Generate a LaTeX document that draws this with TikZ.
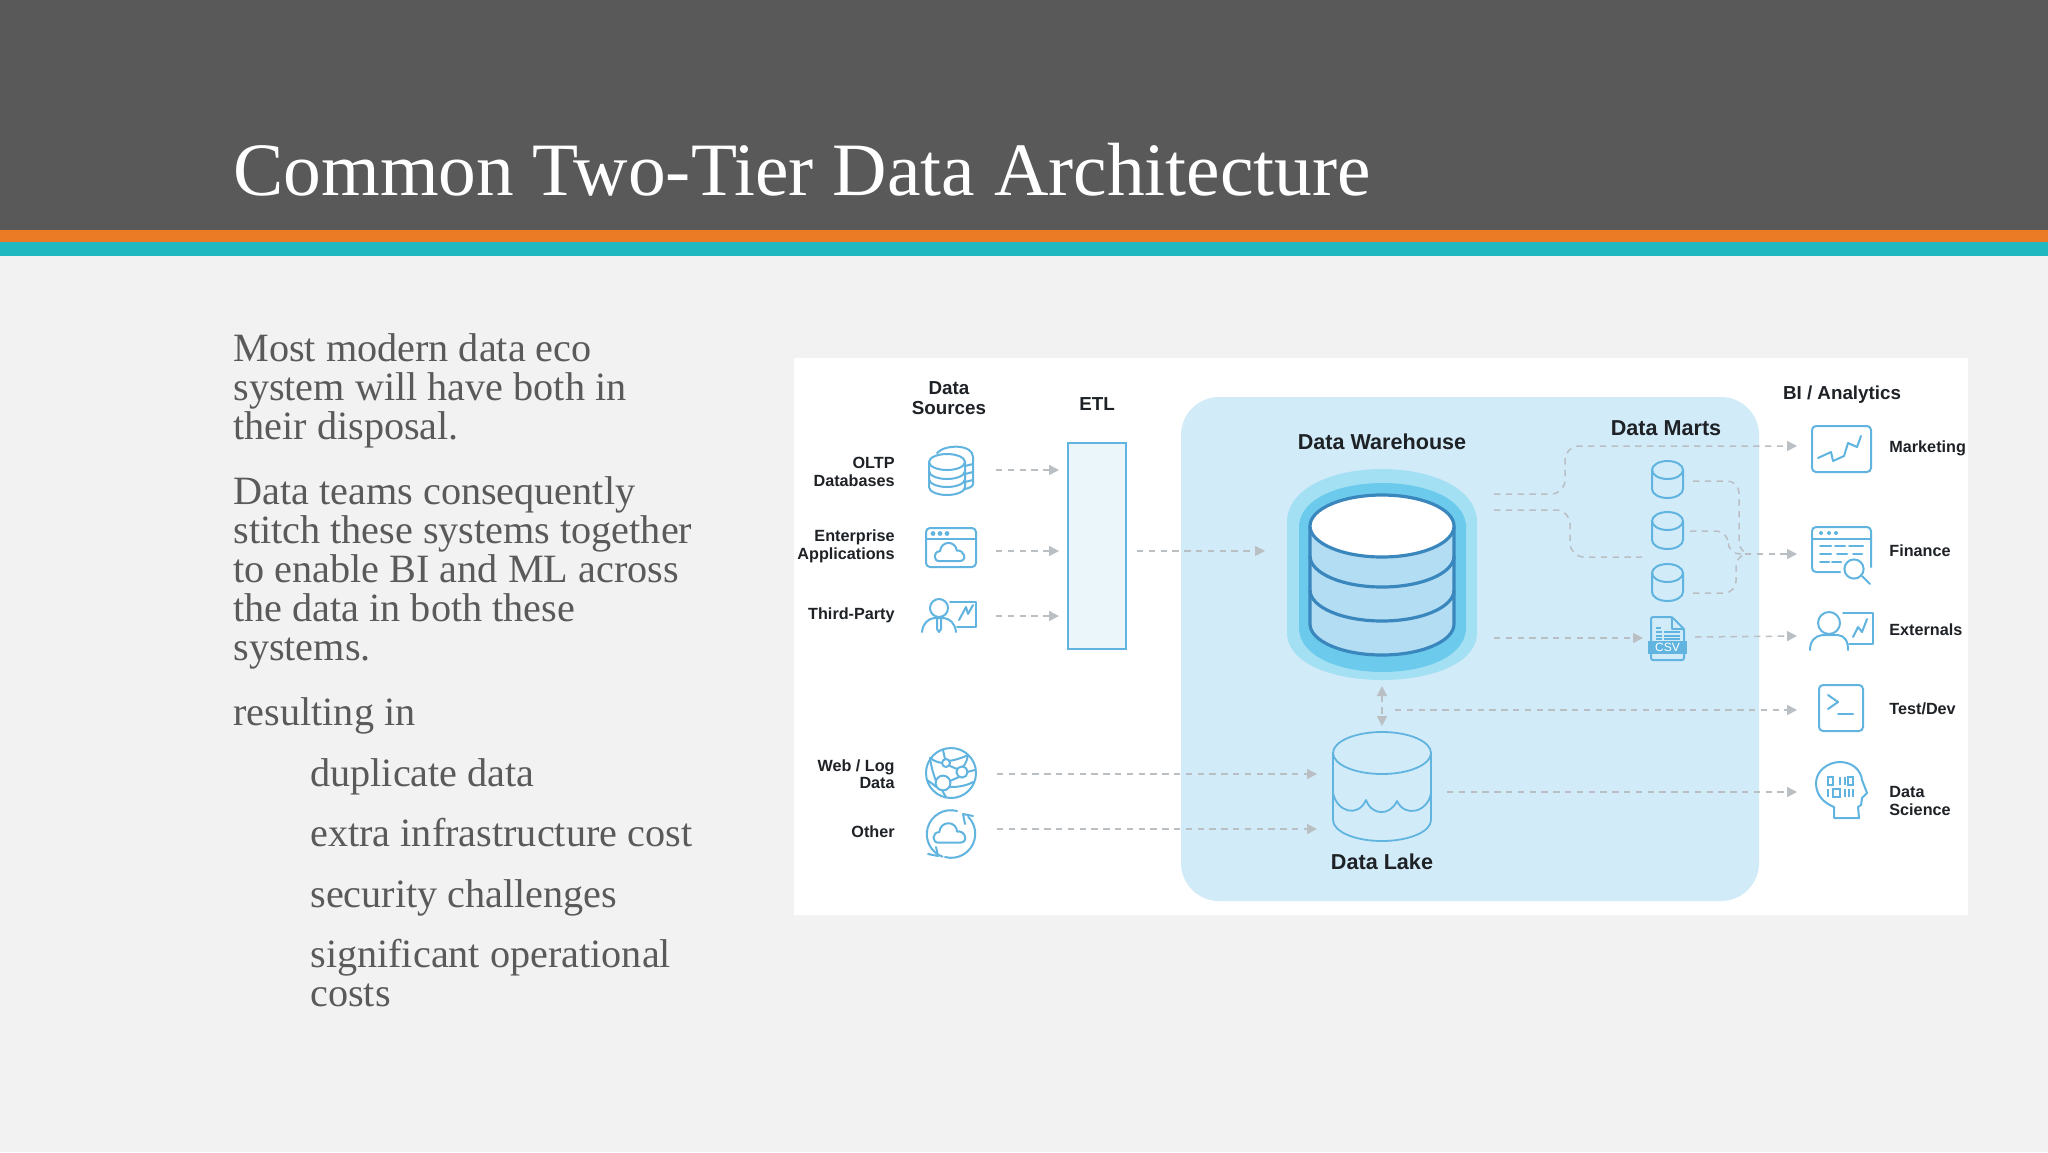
\documentclass[tikz,border=0pt]{standalone}
\usepackage{fontspec}
\setmainfont{Liberation Serif}
\newfontfamily\lab{Liberation Sans}
\usetikzlibrary{arrows.meta,calc}
\definecolor{hdr}{HTML}{595959}
\definecolor{org}{HTML}{EC7B26}
\definecolor{teal}{HTML}{20B8C0}
\definecolor{pagebg}{HTML}{F2F2F2}
\definecolor{bodytxt}{HTML}{5A5A5A}
\definecolor{panelblue}{HTML}{D2EBF8}
\definecolor{ic}{HTML}{60B4DF}
\definecolor{dash}{HTML}{BABFC3}
\definecolor{ink}{HTML}{1E2226}
\definecolor{halo1}{HTML}{A4E0F3}
\definecolor{halo2}{HTML}{6CCBEC}
\definecolor{dbfill}{HTML}{B3DDF3}
\definecolor{dbline}{HTML}{3A87BE}
\definecolor{etlfill}{HTML}{EAF6FA}
\tikzset{
 x=0.5pt,y=-0.5pt,
 bodyline/.style={anchor=base west,inner sep=0,text=bodytxt,font=\fontsize{20.1}{21}\selectfont},
 lbl/.style={inner sep=0,text=ink,font=\lab\bfseries\fontsize{8.1}{8.8}\selectfont,align=right,anchor=east},
 head/.style={inner sep=0,text=ink,font=\lab\bfseries\fontsize{9.4}{10}\selectfont,align=center},
 headb/.style={inner sep=0,text=ink,font=\lab\bfseries\fontsize{10.8}{11}\selectfont,align=center},
 lblr/.style={inner sep=0,text=ink,font=\lab\bfseries\fontsize{8.1}{8.8}\selectfont,align=left,anchor=west},
 icn/.style={draw=ic,line width=1pt,line join=round,line cap=round},
 flow/.style={draw=dash,line width=0.75pt,dash pattern=on 3.2pt off 2.7pt,-{Triangle[length=5pt,width=5pt,color=dash]}},
 flowplain/.style={draw=dash,line width=0.75pt,dash pattern=on 3.2pt off 2.7pt,rounded corners=6pt},
}
\newcommand{\cloudicon}[2]{% centre, scale
 \begin{scope}[shift={(#1)},scale=#2]
 \draw[icn] (-20,14) .. controls (-31,14) and (-31,-3) .. (-19,-3) .. controls (-17,-22) and (8,-22) .. (10,-4) .. controls (22,-7) and (30,14) .. (14,14) -- cycle;
 \end{scope}}
\newcommand{\cyl}[4]{% x, ycentre, rx(px), side height
 \draw[icn] (#1-#3,#2) -- (#1-#3,#2+#4) arc[start angle=180,end angle=360,x radius=#3*0.5pt,y radius=#3*0.29pt] -- (#1+#3,#2);
 \draw[icn] (#1,#2) ellipse[x radius=#3*0.5pt,y radius=#3*0.29pt];}
\begin{document}
\begin{tikzpicture}
\useasboundingbox (0,0) rectangle (2048,1152);
% slide
\fill[pagebg] (0,0) rectangle (2048,1152);
\fill[hdr] (0,0) rectangle (2048,230);
\fill[org] (0,230) rectangle (2048,242);
\fill[teal] (0,242) rectangle (2048,256);
\node[anchor=base west,inner sep=0,text=white,font=\fontsize{37.7}{40}\selectfont] (title) at (233,195) {Common Two-Tier Data Architecture};
% body text
\node[bodyline] (t1) at (233,361) {Most modern data eco};
\node[bodyline] (t2) at (233,400) {system will have both in};
\node[bodyline] (t3) at (233,439) {their disposal.};
\node[bodyline] (t4) at (233,504) {Data teams consequently};
\node[bodyline] (t5) at (233,543) {stitch these systems together};
\node[bodyline] (t6) at (233,582) {to enable BI and ML across};
\node[bodyline] (t7) at (233,621) {the data in both these};
\node[bodyline] (t8) at (233,660) {systems.};
\node[bodyline] (t9) at (233,725) {resulting in};
\node[bodyline] (t10) at (310,786) {duplicate data};
\node[bodyline] (t11) at (310,846) {extra infrastructure cost};
\node[bodyline] (t12) at (310,907) {security challenges};
\node[bodyline] (t13) at (310,967) {significant operational};
\node[bodyline] (t14) at (310,1006) {costs};
% diagram panel
\fill[white] (794,358) rectangle (1968,915);
\fill[panelblue,rounded corners=19pt] (1181,397) rectangle (1759,901);
% headings
\node[head] (hds) at (949,398) {Data\\Sources};
\node[head] (hetl) at (1097,404) {ETL};
\node[headb] (hdw) at (1382,442) {Data Warehouse};
\node[headb] (hdm) at (1666,428) {Data Marts};
\node[head] (hbi) at (1842,395) {BI / Analytics};
\node[headb] (hdl) at (1382,862) {Data Lake};
% source labels
\node[lbl] (loltp) at (895,472) {OLTP\\Databases};
\node[lbl] (lent) at (895,546) {Enterprise\\Applications};
\node[lbl] (ltp) at (895,615) {Third-Party};
\node[lbl] (lweb) at (895,774) {Web / Log\\Data};
\node[lbl] (loth) at (895,832) {Other};
% right labels
\node[lblr] (lmk) at (1889,448) {Marketing};
\node[lblr] (lfi) at (1889,551) {Finance};
\node[lblr] (lex) at (1889,630) {Externals};
\node[lblr] (lte) at (1889,709) {Test/Dev};
\node[lblr] (lds) at (1889,801) {Data\\Science};
% ETL
\node[draw=ic,line width=1pt,fill=etlfill,minimum width=29pt,minimum height=103pt,inner sep=0] (etl) at (1097,546) {};
% OLTP icon
\draw[icn] (937,453) .. controls (945,444) and (973,444) .. (973,457) -- (973,484) .. controls (973,486) and (970,488) .. (965,489);
\draw[icn] (965,466) -- (973,464) (965,474) -- (973,472) (965,482) -- (973,480);
\fill[white] (929,456) rectangle (965,495);
\draw[icn] (929,462) -- (929,487) arc[start angle=180,end angle=360,x radius=9pt,y radius=4pt] -- (965,462);
\draw[icn] (947,462) ellipse[x radius=9pt,y radius=4pt];
\draw[icn] (929,471) arc[start angle=180,end angle=360,x radius=9pt,y radius=4pt];
\draw[icn] (929,479) arc[start angle=180,end angle=360,x radius=9pt,y radius=4pt];
% Enterprise window icon
\draw[icn,rounded corners=2pt] (926,528) rectangle (976,567);
\draw[icn] (926,539) -- (976,539);
\foreach \xx in {933,940,947}\fill[ic] (\xx,533.5) circle[radius=1.2pt];
\coordinate (cl1) at (951,553); \cloudicon{cl1}{0.58}
% Third-party icon
\draw[icn] (939,608) circle[radius=4.5pt];
\draw[icn] (922,632) .. controls (923,623) and (928,619) .. (934,618) -- (944,618) .. controls (950,619) and (955,623) .. (956,632);
\draw[icn] (937,619) -- (937,629) -- (939,632) -- (941,629) -- (941,619);
\draw[icn] (950,602) -- (976,602) -- (976,627) -- (957,627);
\draw[icn] (959,620) -- (966,607) -- (968,614) -- (973,605);
% Web icon
\draw[icn] (951,773) circle[radius=12.5pt];
\draw[icn] (943,783) circle[radius=3.7pt];
\draw[icn] (962,772) circle[radius=2.8pt];
\draw[icn] (946,763) circle[radius=2pt];
\draw[icn] (930,758) .. controls (934,761) and (937,762) .. (942,763);
\draw[icn] (950,766) -- (957,769);
\draw[icn] (967,772) -- (975,770) (959,777) -- (950,781);
\draw[icn] (950,787) .. controls (958,787) and (966,786) .. (973,782);
\draw[icn] (936,787) .. controls (933,784) and (930,782) .. (927,780);
\draw[icn] (936,781) .. controls (933,773) and (931,766) .. (930,758);
\draw[icn] (949,761) .. controls (955,760) and (962,758) .. (968,755);
\draw[icn] (945,759) .. controls (944,756) and (944,753) .. (943,750);
\draw[icn] (963,767) .. controls (966,763) and (967,760) .. (968,755);
\draw[icn] (942,790) .. controls (943,793) and (945,795) .. (946,797);
% Other icon
\draw[icn] (957,811) arc[start angle=75,end angle=250,radius=12pt];
\draw[icn] (945,857) arc[start angle=255,end angle=405,radius=12pt];
\draw[icn] (973,816) -- (963,814) -- (965,824);
\draw[icn] (928,854) -- (938,856) -- (936,847);
\coordinate (cl2) at (951,834); \cloudicon{cl2}{0.62}
% Warehouse
\fill[halo1] (1287,520) .. controls (1292,452) and (1472,452) .. (1477,520) -- (1477,635) .. controls (1472,695) and (1292,695) .. (1287,635) -- cycle;
\fill[halo2] (1299,525) .. controls (1304,469) and (1461,469) .. (1466,525) -- (1466,630) .. controls (1461,686) and (1304,686) .. (1299,630) -- cycle;
\fill[dbfill] (1310,526) -- (1310,624) arc[start angle=180,end angle=360,x radius=36pt,y radius=15.5pt] -- (1454,526) -- cycle;
\draw[dbline,line width=1.6pt] (1310,526) -- (1310,624) arc[start angle=180,end angle=360,x radius=36pt,y radius=15.5pt] -- (1454,526);
\draw[dbline,line width=1.6pt] (1310,556) arc[start angle=180,end angle=360,x radius=36pt,y radius=15.5pt];
\draw[dbline,line width=1.6pt] (1310,590) arc[start angle=180,end angle=360,x radius=36pt,y radius=15.5pt];
\draw[dbline,line width=1.6pt,fill=white] (1382,526) ellipse[x radius=36pt,y radius=15.5pt];
% Marts
\cyl{1667.5}{470}{15.5}{19}
\cyl{1667.5}{521}{15.5}{19}
\cyl{1667.5}{573}{15.5}{19}
% CSV
\draw[icn,fill=panelblue,rounded corners=1pt] (1651,660) -- (1651,617) -- (1672,617) -- (1684,629) -- (1684,660) -- cycle;
\draw[icn] (1672,617) -- (1672,629) -- (1684,629);
\draw[ic,line width=1pt] (1656,628) -- (1661,628);
\foreach \yy in {632,635.5,639}{\draw[ic,line width=1pt] (1656,\yy) -- (1662,\yy) (1664,\yy) -- (1680,\yy);}
\node[fill=ic,text=white,minimum width=19.5pt,minimum height=6.5pt,inner sep=0,font=\lab\fontsize{6}{6}\selectfont] (csv) at (1667.5,647.5) {CSV};
% Data Lake
\draw[icn,line width=.9pt] (1333,753) -- (1333,820) arc[start angle=180,end angle=360,x radius=24.5pt,y radius=10.5pt] -- (1431,753);
\draw[icn,line width=.9pt] (1382,753) ellipse[x radius=24.5pt,y radius=10.5pt];
\draw[icn,line width=.9pt] (1333,793) .. controls (1337,812) and (1358,818) .. (1366,800) .. controls (1372,816) and (1390,816) .. (1397,801) .. controls (1405,818) and (1428,812) .. (1431,793);
% BI icons
\draw[icn,rounded corners=2pt] (1812,426) rectangle (1871,472);
\draw[icn] (1818,458) -- (1831,452) -- (1833,461) -- (1844,456) -- (1848,443) -- (1857,447) -- (1861,436);
\draw[icn,rounded corners=2pt] (1840,572) -- (1812,572) -- (1812,527) -- (1871,527) -- (1871,567);
\draw[icn] (1812,539) -- (1871,539);
\foreach \xx in {1821,1829,1836}\fill[ic] (\xx,533) circle[radius=1pt];
\draw[icn] (1820,546) -- (1831,546) (1835,546) -- (1845,546) (1849,546) -- (1863,546);
\draw[icn] (1820,554) -- (1831,554) (1837,554) -- (1847,554) (1853,554) -- (1862,554);
\draw[icn] (1820,562) -- (1829,562) (1832,562) -- (1841,562);
\draw[icn] (1854,569) circle[radius=4.8pt];
\draw[icn] (1862,576) -- (1870,584);
% Externals
\draw[icn] (1829,623) circle[radius=5.5pt];
\draw[icn] (1810,650) .. controls (1810,641) and (1815,636) .. (1822,635) -- (1838,635) .. controls (1845,636) and (1848,641) .. (1848,650);
\draw[icn] (1843,613) -- (1873,613) -- (1873,644) -- (1849,644);
\draw[icn] (1853,637) -- (1858,627) -- (1862,632) -- (1867,619);
% Test/Dev
\draw[icn,rounded corners=2pt] (1819,685) rectangle (1863,731);
\draw[icn] (1828,695) -- (1838,702) -- (1828,709);
\draw[icn] (1838,714) -- (1853,714);
% Data Science
\draw[icn] (1834,818) -- (1834,807) .. controls (1822,802) and (1816,794) .. (1816,783) .. controls (1816,771) and (1828,762) .. (1840,762) .. controls (1852,762) and (1861,770) .. (1862,780) -- (1867,793) -- (1862,798) -- (1861,805) -- (1858,807) -- (1859,818) -- cycle;
\draw[ic,line width=.8pt] (1828,777) rectangle (1833,785) (1848,777) rectangle (1853,785);
\draw[ic,line width=.8pt] (1840,777) -- (1840,785) (1845,777) -- (1845,785);
\draw[ic,line width=.8pt] (1828,789) -- (1828,797) (1833,789) rectangle (1840,797) (1845,789) -- (1845,797) (1849,789) -- (1849,797) (1853,789) -- (1853,797);
% Connectors
\coordinate (a1) at (996,470);\coordinate (a1e) at (1059,470);
\draw[flow] (a1) -- (a1e);
\coordinate (a2) at (996,551);\coordinate (a2e) at (1059,551);
\draw[flow] (a2) -- (a2e);
\coordinate (a3) at (996,616);\coordinate (a3e) at (1059,616);
\draw[flow] (a3) -- (a3e);
\coordinate (b) at (1137,551);\coordinate (be) at (1265,551);
\draw[flow] (b) -- (be);
\coordinate (c1) at (997,774);\coordinate (c1e) at (1317,774);
\draw[flow] (c1) -- (c1e);
\coordinate (c2) at (997,829);\coordinate (c2e) at (1317,829);
\draw[flow] (c2) -- (c2e);
\coordinate (d1) at (1494,494);\coordinate (d1e) at (1797,446);
\draw[flow,rounded corners=7pt] (d1) -- (1565,494) -- (1565,446) -- (d1e);
\coordinate (d2) at (1494,510);\coordinate (d2e) at (1642,557);
\draw[flowplain,rounded corners=7pt] (d2) -- (1570,510) -- (1570,557) -- (d2e);
\coordinate (d3) at (1494,638);\coordinate (d3e) at (1643,638);
\draw[flow] (d3) -- (d3e);
\coordinate (f1) at (1693,481);\coordinate (f2) at (1690,531);\coordinate (f3) at (1693,593);\coordinate (fj) at (1745,554);\coordinate (fe) at (1797,554);
\draw[flowplain] (f1) -- (1739,481) -- (1739,554) -- (fj);
\draw[flowplain] (f2) -- (1728,531) -- (1728,554) -- (fj);
\draw[flowplain] (f3) -- (1736,593) -- (1736,554) -- (fj);
\draw[flow] (fj) -- (fe);
\coordinate (g) at (1695,637);\coordinate (ge) at (1797,636);
\draw[flow] (g) -- (ge);
\coordinate (h) at (1395,710);\coordinate (he) at (1797,710);
\draw[flow] (h) -- (he);
\coordinate (i1) at (1382,686);\coordinate (i2) at (1382,726);
\draw[flow,{Triangle[length=5pt,width=5pt,color=dash]}-{Triangle[length=5pt,width=5pt,color=dash]}] (i1) -- (i2);
\coordinate (j) at (1447,792);\coordinate (je) at (1797,792);
\draw[flow] (j) -- (je);
\end{tikzpicture}
\end{document}
